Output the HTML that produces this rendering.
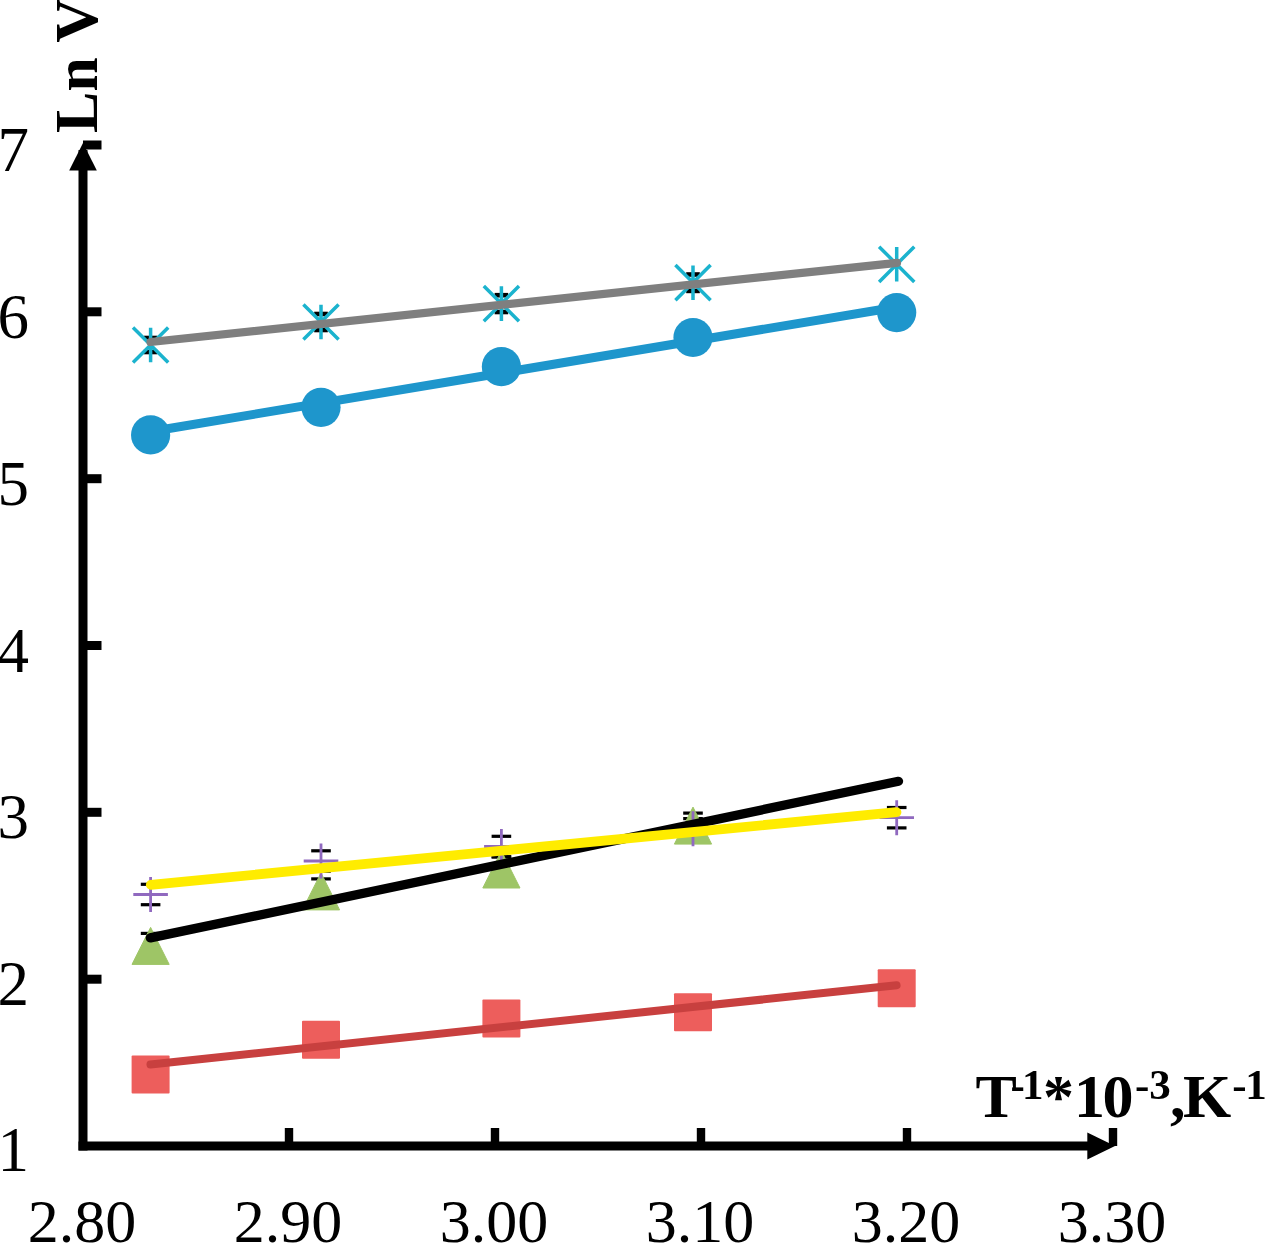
<!DOCTYPE html>
<html lang="en"><head><meta charset="utf-8"><title>Ln V vs 1/T</title>
<style>html,body{margin:0;padding:0;background:#fff;}body{width:1266px;height:1243px;overflow:hidden;}svg{display:block;}text{font-family:"Liberation Serif","Times New Roman",serif;fill:#000;}.t{font-size:62px;}.b{font-size:62px;font-weight:bold;}.s{font-size:43px;font-weight:bold;}</style></head><body>
<svg width="1266" height="1243" viewBox="0 0 1266 1243">
<rect width="1266" height="1243" fill="#fff"/>
<g id="axes" fill="#000" stroke="none">
<rect x="78.5" y="150" width="9" height="1000.5"/>
<rect x="78.5" y="1141.5" width="1015" height="9"/>
<polygon points="83,143 96.8,170.5 69.2,170.5"/>
<polygon points="1115,1146 1087.3,1132.5 1087.3,1159.5"/>
<rect x="83" y="974.7" width="18.5" height="9"/>
<rect x="83" y="807.8" width="18.5" height="9"/>
<rect x="83" y="641.0" width="18.5" height="9"/>
<rect x="83" y="474.2" width="18.5" height="9"/>
<rect x="83" y="307.3" width="18.5" height="9"/>
<rect x="83" y="140.5" width="18.5" height="9"/>
<rect x="284.8" y="1128" width="8.4" height="18"/>
<rect x="490.8" y="1128" width="8.4" height="18"/>
<rect x="696.8" y="1128" width="8.4" height="18"/>
<rect x="902.8" y="1128" width="8.4" height="18"/>
<rect x="1108.8" y="1128" width="8.4" height="18"/>
</g>
<g id="ylabels" class="t" style="font-size:63px">
<text x="-2.5" y="1170.5">1</text>
<text x="-2.5" y="1005.2">2</text>
<text x="-2.5" y="838.3">3</text>
<text x="-2.5" y="671.5">4</text>
<text x="-2.5" y="504.7">5</text>
<text x="-2.5" y="337.8">6</text>
<text x="-2.5" y="171.0">7</text>
</g>
<g id="xlabels" class="t" text-anchor="middle">
<text x="82.0" y="1242">2.80</text>
<text x="288.0" y="1242">2.90</text>
<text x="494.0" y="1242">3.00</text>
<text x="700.0" y="1242">3.10</text>
<text x="906.0" y="1242">3.20</text>
<text x="1112.0" y="1242">3.30</text>
</g>
<text class="b" transform="translate(96.5,133) rotate(-90)">Ln V</text>
<text id="xtitle" class="b"><tspan class="b" x="975.5" y="1117.3">T</tspan><tspan class="s" x="1010.6" y="1098.8">-</tspan><tspan class="s" x="1022" y="1098.8">1</tspan><tspan class="b" x="1043" y="1117.3">*</tspan><tspan class="b" x="1074" y="1117.3">1</tspan><tspan class="b" x="1102.5" y="1117.3">0</tspan><tspan class="s" x="1135" y="1098.8">-</tspan><tspan class="s" x="1149.2" y="1098.8">3</tspan><tspan class="b" x="1170" y="1117.3">,</tspan><tspan class="b" x="1183" y="1117.3">K</tspan><tspan class="s" x="1232.2" y="1098.8">-</tspan><tspan class="s" x="1245.2" y="1098.8">1</tspan></text>
<g id="red">
<rect x="131.6" y="1055.6" width="38" height="38" rx="1" fill="#ED5E5C"/>
<rect x="302.0" y="1020.8" width="38" height="38" rx="1" fill="#ED5E5C"/>
<rect x="482.4" y="999.6" width="38" height="38" rx="1" fill="#ED5E5C"/>
<rect x="674.0" y="993.2" width="38" height="38" rx="1" fill="#ED5E5C"/>
<rect x="877.7" y="969.2" width="38" height="38" rx="1" fill="#ED5E5C"/>
<line x1="150.5" y1="1064.5" x2="896.6" y2="985.3" stroke="#C8403F" stroke-width="8" stroke-linecap="round"/>
</g>
<g id="mid">
<rect x="140.8" y="931.8" width="19.6" height="3.2" fill="#000"/>
<rect x="140.8" y="956.4" width="19.6" height="3.2" fill="#000"/>
<rect x="311.2" y="877.3" width="19.6" height="3.2" fill="#000"/>
<rect x="311.2" y="901.9" width="19.6" height="3.2" fill="#000"/>
<rect x="491.6" y="855.4" width="19.6" height="3.2" fill="#000"/>
<rect x="491.6" y="880.0" width="19.6" height="3.2" fill="#000"/>
<rect x="683.2" y="811.5" width="19.6" height="3.2" fill="#000"/>
<rect x="683.2" y="836.1" width="19.6" height="3.2" fill="#000"/>
<rect x="140.8" y="882.7" width="19.6" height="3.2" fill="#000"/>
<rect x="140.8" y="903.1" width="19.6" height="3.2" fill="#000"/>
<rect x="311.2" y="849.2" width="19.6" height="3.2" fill="#000"/>
<rect x="311.2" y="869.6" width="19.6" height="3.2" fill="#000"/>
<rect x="491.6" y="834.7" width="19.6" height="3.2" fill="#000"/>
<rect x="491.6" y="855.1" width="19.6" height="3.2" fill="#000"/>
<rect x="683.2" y="817.0" width="19.6" height="3.2" fill="#000"/>
<rect x="683.2" y="837.4" width="19.6" height="3.2" fill="#000"/>
<rect x="886.9" y="805.9" width="19.6" height="3.2" fill="#000"/>
<rect x="886.9" y="826.3" width="19.6" height="3.2" fill="#000"/>
<polygon points="150.6,927.4 169.2,964.4 132.0,964.4" fill="#9EC566" stroke="#9EC566" stroke-width="1" stroke-linejoin="round"/>
<polygon points="321.0,872.9 339.6,909.9 302.4,909.9" fill="#9EC566" stroke="#9EC566" stroke-width="1" stroke-linejoin="round"/>
<polygon points="501.4,851.0 520.0,888.0 482.8,888.0" fill="#9EC566" stroke="#9EC566" stroke-width="1" stroke-linejoin="round"/>
<polygon points="693.0,807.1 711.6,844.1 674.4,844.1" fill="#9EC566" stroke="#9EC566" stroke-width="1" stroke-linejoin="round"/>
<path d="M133.3,894.5H167.9M150.6,877.0V912.0" stroke="#9069BF" stroke-width="2.8" fill="none"/>
<path d="M303.7,861.0H338.3M321.0,843.5V878.5" stroke="#9069BF" stroke-width="2.8" fill="none"/>
<path d="M484.1,846.5H518.7M501.4,829.0V864.0" stroke="#9069BF" stroke-width="2.8" fill="none"/>
<path d="M675.7,828.8H710.3M693.0,811.3V846.3" stroke="#9069BF" stroke-width="2.8" fill="none"/>
<path d="M879.4,817.7H914.0M896.7,800.2V835.2" stroke="#9069BF" stroke-width="2.8" fill="none"/>
<line x1="150.3" y1="937.9" x2="898.5" y2="781.3" stroke="#000" stroke-width="9.3" stroke-linecap="round"/>
<line x1="150.8" y1="884.8" x2="896.5" y2="812.2" stroke="#FFEC00" stroke-width="9.8" stroke-linecap="round"/>
</g>
<g id="top">
<rect x="143.8" y="335.7" width="13.6" height="4.6" fill="#000"/>
<rect x="143.8" y="349.7" width="13.6" height="4.6" fill="#000"/>
<rect x="314.2" y="311.7" width="13.6" height="4.6" fill="#000"/>
<rect x="314.2" y="327.7" width="13.6" height="4.6" fill="#000"/>
<rect x="494.6" y="292.9" width="13.6" height="4.6" fill="#000"/>
<rect x="494.6" y="309.7" width="13.6" height="4.6" fill="#000"/>
<rect x="686.2" y="272.2" width="13.6" height="4.6" fill="#000"/>
<rect x="686.2" y="288.6" width="13.6" height="4.6" fill="#000"/>
<path d="M133.0,327.4L168.2,362.6M168.2,327.4L133.0,362.6M150.6,327.7V362.3" stroke="#1BB3CE" stroke-width="3.5" fill="none"/>
<path d="M303.4,304.4L338.6,339.6M338.6,304.4L303.4,339.6M321.0,304.7V339.3" stroke="#1BB3CE" stroke-width="3.5" fill="none"/>
<path d="M483.8,286.0L519.0,321.2M519.0,286.0L483.8,321.2M501.4,286.3V320.9" stroke="#1BB3CE" stroke-width="3.5" fill="none"/>
<path d="M675.4,265.1L710.6,300.3M710.6,265.1L675.4,300.3M693.0,265.4V300.0" stroke="#1BB3CE" stroke-width="3.5" fill="none"/>
<path d="M879.1,246.7L914.3,281.9M914.3,246.7L879.1,281.9M896.7,247.0V281.6" stroke="#1BB3CE" stroke-width="3.5" fill="none"/>
<line x1="150.5" y1="342" x2="897" y2="262.8" stroke="#7F7F7F" stroke-width="8.2" stroke-linecap="round"/>
<line x1="150.9" y1="431.5" x2="896.9" y2="307" stroke="#1E96CC" stroke-width="9" stroke-linecap="round"/>
<circle cx="150.6" cy="434.9" r="19.6" fill="#1E96CC"/>
<circle cx="321.0" cy="407.3" r="19.6" fill="#1E96CC"/>
<circle cx="501.4" cy="366.7" r="19.6" fill="#1E96CC"/>
<circle cx="693.0" cy="337.5" r="19.6" fill="#1E96CC"/>
<circle cx="896.7" cy="312.6" r="19.6" fill="#1E96CC"/>
</g>
</svg></body></html>
